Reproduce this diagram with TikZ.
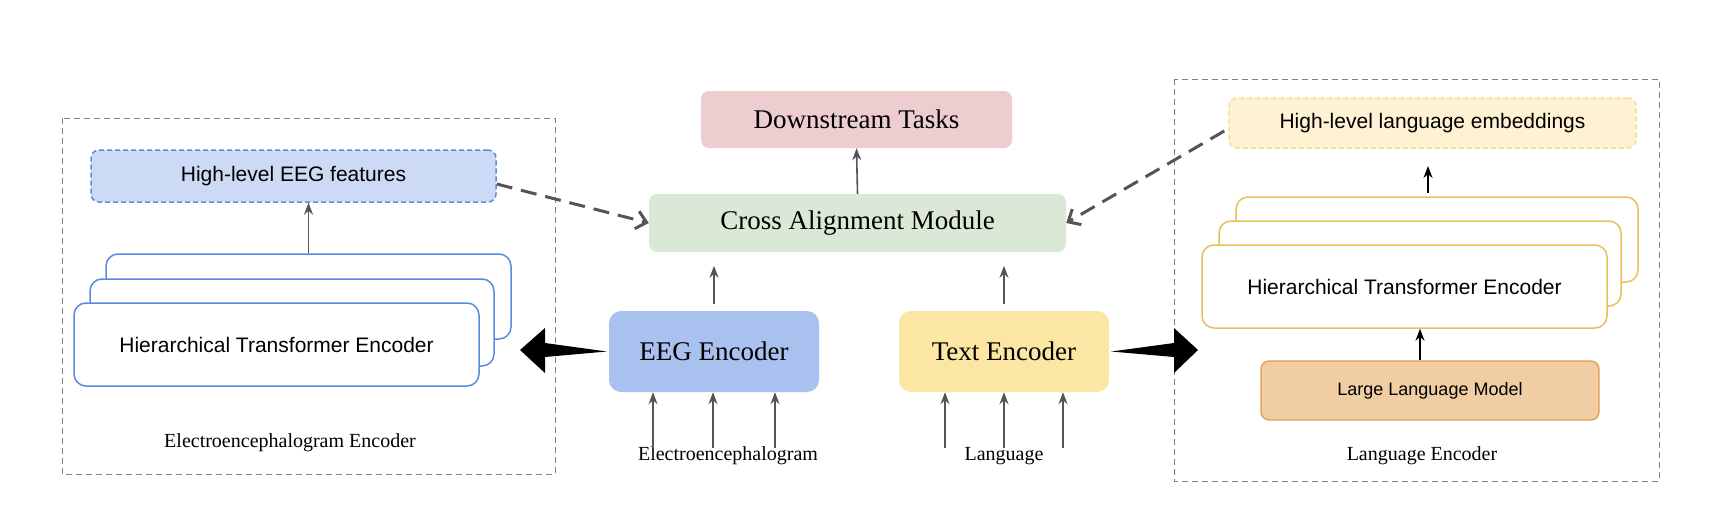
\documentclass[tikz,border=0pt]{standalone}
\usepackage{fontspec}
\setmainfont{Liberation Serif}
\newfontfamily\sansf{Liberation Sans}
\usetikzlibrary{arrows.meta}
\definecolor{bluefeat}{HTML}{CCDAF5}
\definecolor{blueline}{HTML}{5B8BE0}
\definecolor{eegfill}{HTML}{A9C1EE}
\definecolor{dsfill}{HTML}{EDCDD0}
\definecolor{cafill}{HTML}{DCE8D6}
\definecolor{tefill}{HTML}{FBE6A4}
\definecolor{lefill}{HTML}{FEF2D2}
\definecolor{leline}{HTML}{F7DE98}
\definecolor{yline}{HTML}{E8C05A}
\definecolor{llmfill}{HTML}{F0CDA3}
\definecolor{llmline}{HTML}{DD9A52}
\definecolor{arr}{HTML}{555555}
\tikzset{
  box/.style={rounded corners=8pt, inner sep=0pt},
  big/.style={font=\fontsize{27}{30}\selectfont},
  sans/.style={font=\sansf\fontsize{21}{24}\selectfont},
  lab/.style={font=\fontsize{20}{22}\selectfont},
  garr/.style={draw=arr, line width=1.6pt, -{Stealth[length=12pt,width=9pt]}},
  karr/.style={draw=black, line width=1.6pt, -{Stealth[length=12pt,width=9pt]}},
  darr/.style={draw=arr, line width=3pt, dash pattern=on 16pt off 9pt, -{Straight Barb[length=10pt,width=18pt]}},
  frame/.style={draw=gray, line width=1pt, dash pattern=on 6pt off 4pt},
}
\begin{document}
\begin{tikzpicture}[x=1pt,y=-1pt]
\useasboundingbox (0,0) rectangle (1716,520);
% frames
\draw[frame] (62,118) rectangle (555,474);
\draw[frame] (1174,79) rectangle (1659,481);
% left side
\node[box, fill=bluefeat, draw=blueline, line width=1.5pt, dash pattern=on 5pt off 3pt, minimum width=405pt, minimum height=52pt, sans] (eegf) at (293.5,176) {High-level EEG features};
\node[box, rounded corners=12pt, draw=blueline, line width=1.5pt, fill=white, minimum width=405pt, minimum height=85pt] (ls3) at (308.5,296.5) {};
\node[box, rounded corners=12pt, draw=blueline, line width=1.5pt, fill=white, minimum width=404pt, minimum height=87pt] (ls2) at (292,322.5) {};
\node[box, rounded corners=12pt, draw=blueline, line width=1.5pt, fill=white, minimum width=405pt, minimum height=83pt, sans] (ls1) at (276.5,344.5) {Hierarchical Transformer Encoder};
\node[lab] (eegenc) at (290,443) {Electroencephalogram Encoder};
% centre
\node[box, fill=dsfill, minimum width=311pt, minimum height=57pt, big] (ds) at (856.5,119.5) {Downstream Tasks};
\node[box, fill=cafill, minimum width=417pt, minimum height=58pt, big] (ca) at (857.5,223) {Cross Alignment Module};
\node[box, rounded corners=12pt, fill=eegfill, minimum width=210pt, minimum height=81pt, big] (eeg) at (714,351.5) {EEG Encoder};
\node[box, rounded corners=12pt, fill=tefill, minimum width=210pt, minimum height=81pt, big] (te) at (1004,351.5) {Text Encoder};
\node[lab] (eegin) at (728,456) {Electroencephalogram};
\node[lab] (langin) at (1004,456) {Language};
\coordinate (e1) at (653,448); \coordinate (e2) at (713,448); \coordinate (e3) at (775,448);
\coordinate (t1) at (945,448); \coordinate (t2) at (1004,448); \coordinate (t3) at (1063,448);
\draw[garr] (e1) -- (e1 |- eeg.south);
\draw[garr] (e2) -- (e2 |- eeg.south);
\draw[garr] (e3) -- (e3 |- eeg.south);
\draw[garr] (t1) -- (t1 |- te.south);
\draw[garr] (t2) -- (t2 |- te.south);
\draw[garr] (t3) -- (t3 |- te.south);
\draw[garr] (eeg.north) ++(0,-7) -- ++(0,-38);
\draw[garr] (te.north) ++(0,-7) -- ++(0,-38);
\draw[garr] (ca.north) -- (ds.south);
\draw[garr] (ls3.north) -- (ls3.north |- eegf.south) ++(0,0);
% right side
\node[box, fill=lefill, draw=leline, line width=1.5pt, dash pattern=on 5pt off 3pt, minimum width=407pt, minimum height=50pt, sans] (lemb) at (1432.5,123) {High-level language embeddings};
\node[box, rounded corners=12pt, draw=yline, line width=1.5pt, fill=white, minimum width=402pt, minimum height=85pt] (rs3) at (1437,239.5) {};
\node[box, rounded corners=12pt, draw=yline, line width=1.5pt, fill=white, minimum width=402pt, minimum height=85pt] (rs2) at (1420,263.5) {};
\node[box, rounded corners=12pt, draw=yline, line width=1.5pt, fill=white, minimum width=405pt, minimum height=83pt, sans] (rs1) at (1404.5,286.5) {Hierarchical Transformer Encoder};
\node[box, fill=llmfill, draw=llmline, line width=1.2pt, minimum width=338pt, minimum height=59pt, font=\sansf\fontsize{18}{20}\selectfont] (llm) at (1430,390.5) {Large Language Model};
\node[lab] (langenc) at (1422,456) {Language Encoder};
\draw[karr] (llm.north -| 1420,0) -- (rs1.south -| 1420,0);
\draw[karr] (1428,193) -- (1428,166);
% dashed arrows
\draw[darr] (eegf.east) ++(0,8) -- (ca.west);
\draw[darr] (lemb.west) ++(-4,8) -- (ca.east);
% big arrows
\fill[black] (eeg.west) ++(-2,0) -- (545,357) -- (545,373) -- (520,350) -- (545,328) -- (545,343) -- cycle;
\fill[black] (te.east) ++(2,0) -- (1174,343) -- (1174,328) -- (1198,350) -- (1174,373) -- (1174,357) -- cycle;
\end{tikzpicture}
\end{document}
